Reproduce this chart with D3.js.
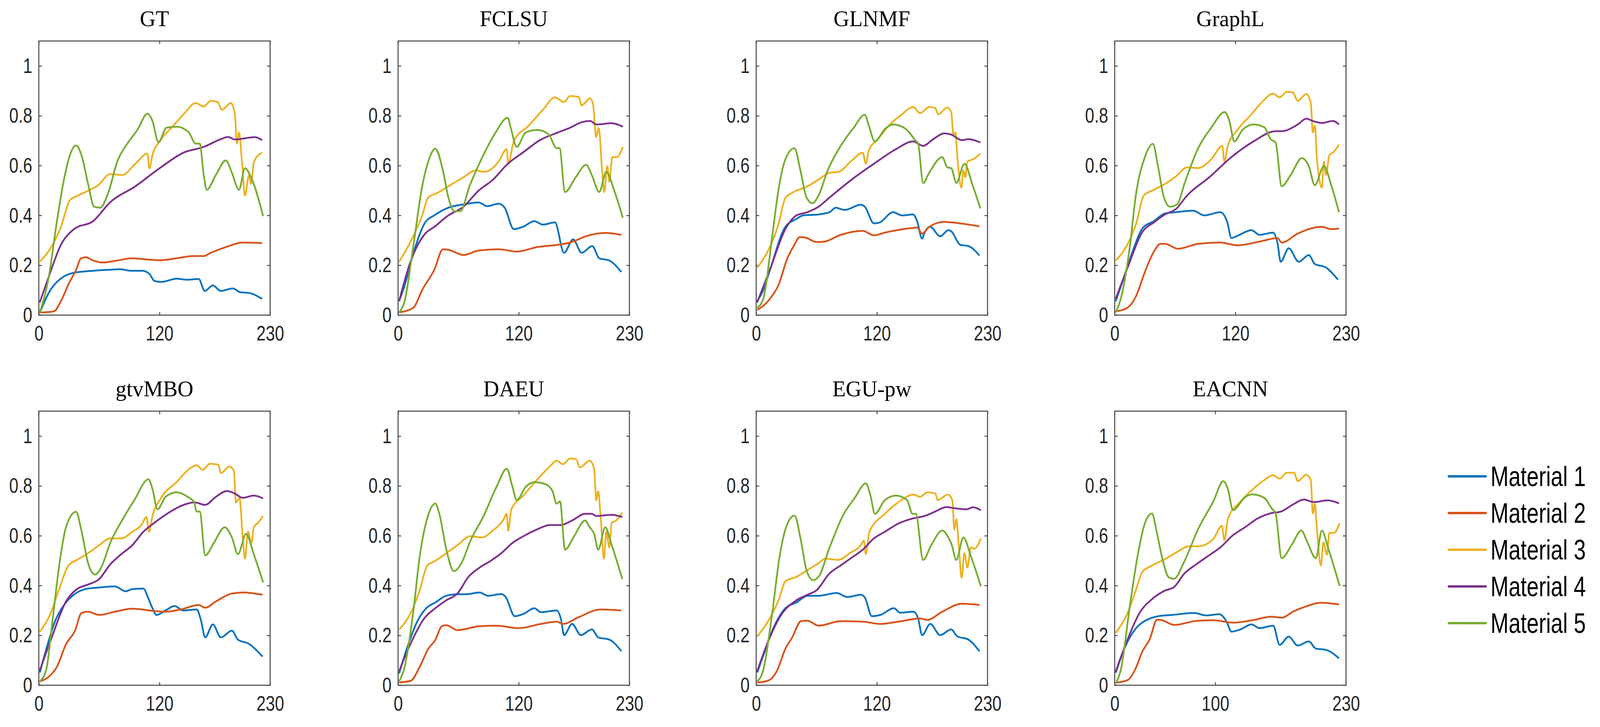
<!DOCTYPE html>
<html>
<head>
<meta charset="utf-8">
<script src="https://cdn.jsdelivr.net/npm/d3@7"></script>
<style>
  html, body { margin: 0; background: #fff; overflow: hidden; }
  svg { display: block; }
</style>
</head>
<body>
<svg id="chart"></svg>
<script>
// values, [band, abundance]
var gt1 = [[1,.01],[10,.09],[25,.155],[35,.17],[54,.178],[71,.182],[81,.184],[91,.178],[103,.178],[110,.165],[115,.137],[122,.133],[137,.146],[147,.142],[159,.145],[165,.097],[173,.119],[181,.097],[193,.107],[200,.092],[210,.088],[222,.065]];
var gt2 = [[1,.01],[15,.015],[22,.056],[30,.128],[37,.18],[42,.228],[47,.232],[54,.219],[64,.211],[78,.219],[93,.228],[108,.223],[120,.22],[137,.228],[154,.237],[164,.237],[171,.25],[186,.273],[203,.291],[222,.289]];
var gt3 = [[1,.214],[13,.277],[22,.354],[31,.462],[37,.476],[49,.499],[59,.521],[71,.566],[83,.562],[96,.607],[108,.648],[110,.589],[113,.643],[120,.697],[132,.752],[144,.806],[156,.851],[164,.837],[171,.86],[178,.855],[182,.824],[191,.851],[195,.806],[197,.688],[199,.733],[202,.616],[205,.48],[209,.562],[211,.526],[214,.616],[222,.652]];
var gt4 = [[1,.051],[10,.155],[22,.282],[35,.345],[54,.377],[71,.453],[96,.517],[120,.589],[144,.652],[164,.675],[181,.706],[188,.715],[195,.705],[215,.714],[222,.702]];
var gt5 = [[1,.01],[10,.155],[17.5,.363],[25,.544],[31,.643],[37,.681],[43,.634],[49,.526],[55,.435],[61,.431],[69,.49],[78,.616],[88,.688],[98,.743],[108,.808],[113,.779],[119,.693],[127,.752],[137,.756],[149,.734],[156,.688],[160,.688],[164,.562],[167,.503],[176,.562],[186,.621],[192,.571],[199,.503],[205,.589],[212,.544],[223,.397]];

var fc1 = [[1,.056],[6.5,.119],[15,.246],[27,.372],[36,.40],[50,.431],[65,.444],[80,.452],[88.6,.437],[100,.447],[106,.431],[115,.345],[124,.354],[135.5,.377],[144,.363],[156,.372],[165,.25],[174,.304],[182.5,.25],[193,.277],[200,.228],[210,.219],[222,.173]];
var fc2 = [[1,.011],[15,.029],[24,.101],[36,.182],[44.6,.264],[50,.262],[65,.241],[80,.259],[100,.264],[118,.255],[138.5,.273],[159,.282],[171,.291],[188,.318],[206,.33],[222,.322]];
var fc3 = [[1,.214],[12,.291],[24,.40],[30,.472],[39,.49],[50,.517],[65,.553],[77,.58],[86,.575],[100,.616],[108,.666],[109.5,.607],[115,.697],[130,.761],[144,.824],[156,.874],[165,.855],[171,.879],[179.5,.876],[182.5,.842],[191,.87],[194,.842],[197,.715],[199.5,.751],[203,.571],[205,.494],[208,.598],[210,.535],[213,.634],[217.6,.634],[223.5,.675]];
var fc4 = [[1,.056],[12,.21],[27,.327],[36,.354],[50,.40],[65,.435],[80,.499],[94.5,.544],[109,.607],[124,.652],[141,.702],[159,.733],[171,.752],[182.5,.774],[191,.779],[197,.765],[212,.77],[223.5,.756]];
var fc5 = [[1,.011],[6.5,.056],[15,.273],[24,.517],[30,.616],[37,.668],[44.6,.58],[50,.472],[56,.417],[62,.417],[71,.517],[86,.652],[97,.733],[109,.792],[112,.752],[118,.675],[127,.733],[138.5,.743],[150,.724],[157.5,.67],[160.5,.67],[166,.494],[176.6,.553],[187,.603],[192.6,.562],[200,.494],[207,.575],[215,.499],[223.5,.39]];

var gl1 = [[1,.056],[7,.10],[13.6,.18],[29,.354],[40,.386],[46.5,.40],[62,.404],[73,.413],[79,.431],[88,.422],[104,.443],[108,.435],[117,.368],[123,.372],[136,.413],[145,.40],[156,.404],[160,.377],[165,.307],[167,.327],[173,.354],[183,.316],[191,.341],[194,.336],[203,.282],[211,.277],[222,.239]];
var gl2 = [[1,.02],[13.6,.065],[22,.119],[31,.228],[38,.282],[43,.313],[49,.311],[60,.293],[68,.295],[84,.322],[106,.338],[117,.32],[128,.331],[150,.347],[160,.351],[165,.327],[172,.354],[187,.374],[194,.372],[222,.356]];
var gl3 = [[1,.19],[13.6,.273],[22,.363],[29,.47],[35.5,.49],[51,.517],[62,.544],[73,.571],[82,.575],[95,.62],[106,.652],[109,.607],[112,.661],[121,.706],[132,.761],[145,.806],[156,.835],[163,.81],[172,.835],[178,.831],[181,.806],[190,.833],[194,.815],[196,.724],[198,.733],[200,.634],[204,.512],[206,.58],[208,.553],[210,.616],[215.5,.625],[223,.648]];
var gl4 = [[1,.051],[13.6,.182],[29,.345],[40,.40],[51,.413],[62,.435],[73,.472],[95,.544],[117,.607],[139,.666],[156,.697],[166,.679],[176,.706],[187,.729],[194,.724],[204.5,.702],[211,.706],[223,.693]];
var gl5 = [[1,.029],[7,.065],[16,.318],[22,.499],[29,.625],[38,.67],[44,.58],[50,.472],[56,.449],[62,.48],[71,.58],[84,.679],[97,.752],[108,.804],[112,.76],[118,.697],[128,.747],[136,.765],[147,.752],[154,.724],[158,.702],[161,.688],[166,.53],[172,.571],[185,.634],[190,.593],[194,.589],[199,.53],[207,.607],[215.5,.517],[223,.428]];

var gr1 = [[1,.056],[8,.137],[17,.246],[28,.35],[39,.377],[50,.408],[61,.413],[78,.419],[89,.40],[105,.413],[112,.372],[116,.309],[122,.318],[136,.341],[144,.322],[157.5,.331],[162,.286],[165,.214],[173,.268],[183,.214],[193,.241],[199,.205],[210,.191],[222,.142]];
var gr2 = [[1,.015],[12.5,.029],[21,.074],[30,.173],[39,.255],[45.5,.286],[50,.286],[63,.266],[83,.286],[105,.291],[122,.28],[144,.295],[162,.309],[166,.291],[182,.327],[193,.345],[206,.354],[215,.345],[223,.347]];
var gr3 = [[1,.219],[12.5,.282],[21,.363],[29,.48],[37,.499],[50,.526],[61,.557],[72,.593],[83,.59],[96,.625],[107,.679],[109,.616],[112.5,.679],[122,.743],[136,.806],[146.5,.855],[157.5,.889],[164,.874],[171,.896],[177,.894],[182,.86],[190.5,.887],[195,.851],[197,.733],[199,.76],[201,.634],[206,.512],[208,.616],[210,.562],[213.5,.643],[217,.652],[223,.684]];
var gr4 = [[1,.065],[12.5,.187],[28,.336],[39,.372],[50,.404],[61,.426],[72,.48],[94,.553],[116,.634],[138,.697],[160,.738],[166,.738],[182,.765],[190.5,.788],[197,.779],[206,.771],[217,.779],[223,.765]];
var gr5 = [[1,.011],[6,.065],[15,.273],[21,.48],[30,.634],[38,.687],[43,.598],[49,.472],[55,.435],[62,.444],[70,.535],[83,.67],[96,.752],[109.5,.815],[114,.779],[119,.697],[127,.743],[138,.765],[149,.753],[155,.706],[160,.693],[166,.517],[175,.562],[186,.63],[193,.598],[199,.521],[208,.598],[215,.526],[223,.413]];

var gv1 = [[1,.051],[7.5,.146],[16,.255],[27,.332],[38,.372],[49,.388],[60,.392],[75.5,.397],[86.5,.377],[93,.386],[104,.388],[108.4,.354],[113,.309],[117,.282],[126,.30],[135,.318],[143.5,.30],[157,.304],[161,.264],[165.5,.192],[173,.244],[181,.192],[192,.219],[198,.183],[209,.166],[222.5,.115]];
var gv2 = [[1,.015],[12,.042],[18,.074],[27,.164],[36,.219],[42.6,.291],[49,.295],[60,.282],[75.5,.295],[93,.307],[115,.298],[126,.295],[141,.304],[159,.322],[165.5,.311],[176,.336],[192,.368],[203,.372],[222.5,.363]];
var gv3 = [[1,.214],[12,.291],[20.6,.39],[29.4,.48],[38,.503],[49,.53],[60,.562],[71,.589],[82,.589],[93,.616],[102,.643],[107,.675],[109.5,.616],[113,.679],[121.6,.752],[137,.815],[150,.869],[157,.883],[163,.864],[170,.889],[178.6,.885],[181,.851],[189.6,.878],[194,.86],[196,.733],[199.5,.751],[203,.58],[205,.508],[208,.616],[211.5,.571],[213.7,.634],[218,.652],[223,.679]];
var gv4 = [[1,.06],[12,.182],[27,.336],[38,.386],[49,.404],[60,.426],[71,.485],[82,.526],[93,.562],[104,.616],[115,.652],[126,.684],[137,.711],[148,.729],[154.5,.734],[165.5,.724],[176,.756],[187,.779],[194,.771],[203,.752],[213.7,.761],[223,.75]];
var gv5 = [[1,.015],[7.5,.065],[14,.273],[20.6,.49],[27,.634],[37,.696],[42.6,.616],[49,.49],[56,.444],[62,.472],[71,.571],[84,.67],[95,.743],[109,.826],[113,.788],[118,.706],[126,.756],[137,.774],[148,.756],[154.5,.734],[157,.697],[160,.697],[165.5,.521],[174,.571],[185,.634],[192,.593],[198,.526],[206,.607],[213.7,.526],[223,.413]];

var da1 = [[1,.047],[8.3,.142],[19,.255],[28,.309],[37,.332],[48,.359],[59,.365],[67.6,.365],[81,.372],[89.5,.359],[102.7,.366],[107,.354],[116,.277],[124.6,.286],[135.6,.309],[142,.293],[157.6,.30],[162,.264],[165,.201],[173,.246],[181.7,.201],[192.7,.224],[199,.192],[210,.183],[222,.137]];
var da2 = [[1,.011],[12.7,.018],[21.5,.074],[30,.146],[37,.182],[43.5,.237],[48,.241],[59,.221],[81,.237],[98,.239],[120,.229],[142,.246],[157.6,.255],[164,.246],[179.5,.273],[201.5,.304],[222,.30]];
var da3 = [[1,.223],[12.7,.291],[21.5,.381],[29,.48],[37,.499],[48,.53],[59,.562],[72,.598],[83,.593],[94,.62],[105,.666],[108,.688],[109.5,.62],[112.6,.706],[124.6,.761],[138,.824],[151,.878],[157.6,.901],[164,.887],[171,.91],[177,.907],[180.6,.874],[190.5,.901],[195,.869],[197,.742],[199,.778],[201.5,.67],[204.7,.508],[207,.616],[210,.553],[212.4,.652],[216.8,.661],[223,.693]];
var da4 = [[1,.056],[12.7,.169],[26,.268],[37,.309],[48,.341],[59,.368],[70,.435],[81,.472],[92,.499],[102.7,.53],[113.7,.571],[124.6,.598],[138,.625],[151,.643],[162,.643],[173,.661],[186,.688],[192.7,.688],[197,.679],[212.4,.684],[223,.675]];
var da5 = [[1,.015],[6,.065],[15,.291],[21.5,.517],[29,.67],[37,.729],[41,.688],[48,.544],[55.5,.458],[63,.49],[72,.58],[85,.679],[98,.797],[108,.869],[113.7,.797],[118,.743],[127,.797],[136,.815],[147,.806],[153.5,.779],[157.6,.729],[161,.738],[166,.544],[175,.598],[186,.661],[190.5,.634],[195,.607],[199,.544],[206,.634],[212.4,.562],[223,.426]];

var eg1 = [[1,.051],[7,.119],[18,.237],[29,.309],[40,.332],[51,.359],[62,.359],[80,.37],[90.6,.354],[104,.363],[108,.352],[115,.277],[123.5,.282],[137,.309],[143,.291],[156.5,.295],[161,.268],[165,.201],[173,.246],[183,.201],[193.8,.224],[200,.196],[211,.183],[222,.136]];
var eg2 = [[1,.011],[11.6,.018],[20.4,.056],[29,.146],[35.8,.192],[44.5,.257],[51,.259],[62,.239],[84,.257],[106,.255],[123.5,.246],[141,.255],[163,.268],[170,.262],[185,.295],[204.7,.327],[222,.322]];
var eg3 = [[1,.196],[11.6,.255],[22.6,.345],[29,.417],[40,.435],[51,.462],[62,.49],[68.7,.508],[82,.503],[93,.53],[104,.562],[107,.58],[109,.526],[112.6,.616],[128,.688],[141,.733],[156.5,.765],[163,.756],[170,.774],[178,.77],[180.6,.743],[190.5,.765],[195,.743],[197,.625],[199,.666],[201.4,.562],[204.3,.431],[207,.53],[210,.472],[213.5,.553],[216.8,.548],[223.4,.589]];
var eg4 = [[1,.056],[11.6,.173],[24.8,.282],[40,.341],[51,.363],[60,.381],[73,.449],[84,.481],[95,.512],[106,.544],[117,.589],[128,.616],[141,.648],[156.5,.67],[167.4,.679],[178,.697],[189,.715],[196,.711],[209,.706],[215.7,.714],[223.4,.702]];
var eg5 = [[1,.015],[7,.061],[16,.291],[22.6,.499],[29,.625],[38,.681],[44.5,.58],[50,.462],[56.6,.422],[62,.435],[73,.553],[86,.679],[98,.752],[109,.81],[113.7,.76],[118,.688],[128,.743],[139,.761],[150,.743],[155.4,.688],[158.7,.688],[166,.503],[174,.562],[185,.621],[191.6,.589],[194,.569],[199,.503],[206,.593],[213.5,.517],[223.4,.397]];

var ea1 = [[1,.05],[10.7,.157],[25,.244],[45,.278],[57,.282],[79,.29],[91,.28],[104,.285],[111.5,.253],[116,.215],[125,.224],[136,.244],[144,.229],[157.6,.239],[164,.162],[173,.195],[182,.159],[193,.176],[200,.147],[210,.142],[223,.108]];
var ea2 = [[1,.01],[13,.021],[20,.06],[27.7,.137],[35,.186],[42,.263],[47,.261],[59,.242],[81,.258],[98,.261],[117.6,.251],[137,.261],[156,.275],[166,.271],[178,.297],[190,.316],[205,.331],[223,.324]];
var ea3 = [[1,.21],[13,.292],[20,.369],[27.7,.456],[35,.476],[49.5,.505],[61.7,.534],[74,.558],[83.5,.558],[98,.587],[106.6,.64],[109,.582],[112.7,.669],[125,.737],[137,.785],[149,.824],[157.6,.843],[164,.829],[171,.853],[178.3,.853],[182,.819],[190.5,.845],[195,.824],[197,.689],[199,.727],[201,.631],[205,.481],[207.5,.573],[211,.524],[213.5,.611],[218,.611],[223.7,.65]];
var ea4 = [[1,.055],[13,.186],[25,.292],[37,.345],[49.5,.379],[59,.394],[69,.447],[81,.485],[93,.519],[105,.553],[117.6,.602],[130,.635],[142,.669],[154,.689],[166,.698],[178,.727],[188,.745],[198,.735],[212,.742],[223,.73]];
var ea5 = [[1,.007],[6,.06],[15.5,.331],[23,.524],[30,.65],[37,.689],[42,.611],[47,.515],[54,.432],[59,.427],[69,.495],[83.5,.631],[98,.737],[108,.819],[112.7,.785],[117.6,.703],[130,.756],[137,.766],[149,.751],[156.4,.708],[160,.689],[166,.51],[176,.563],[185.6,.621],[191.6,.573],[200,.51],[206,.621],[212,.553],[223.7,.398]];

var titles = ["GT", "FCLSU", "GLNMF", "GraphL", "gtvMBO", "DAEU", "EGU-pw", "EACNN"];
var materials = ["Material 1", "Material 2", "Material 3", "Material 4", "Material 5"];
var colors = ["#0072BD", "#D95319", "#EDB120", "#7E2F8E", "#77AC30"];
var yTicks = [0, 0.2, 0.4, 0.6, 0.8, 1];
var xTicksA = [0, 120, 230];
var xTicksB = [0, 100, 230];

var panels = [
    { title: titles[0], series: [gt1, gt2, gt3, gt4, gt5], xt: xTicksA },
    { title: titles[1], series: [fc1, fc2, fc3, fc4, fc5], xt: xTicksA },
    { title: titles[2], series: [gl1, gl2, gl3, gl4, gl5], xt: xTicksA },
    { title: titles[3], series: [gr1, gr2, gr3, gr4, gr5], xt: xTicksA },
    { title: titles[4], series: [gv1, gv2, gv3, gv4, gv5], xt: xTicksA },
    { title: titles[5], series: [da1, da2, da3, da4, da5], xt: xTicksA },
    { title: titles[6], series: [eg1, eg2, eg3, eg4, eg5], xt: xTicksA },
    { title: titles[7], series: [ea1, ea2, ea3, ea4, ea5], xt: xTicksB }
];

// the window is narrower than 4164, so lay out at 4164x1862 and fit it to the viewport
var W = 4164, H = 1862;
var svg = d3.select("#chart")
    .attr("width", window.innerWidth || W)
    .attr("height", window.innerHeight || H)
    .attr("viewBox", "0 0 " + W + " " + H)
    .attr("preserveAspectRatio", "none");

var pw = 602, ph = 702;
var colX = [101, 1036, 1968, 2901];
var rowY = [105, 1053];
// no narrow font installed, so squeeze Liberation Sans sideways
var numFont = "'Liberation Sans', Arial, sans-serif";
var squeeze = 0.8;

var x = d3.scaleLinear().domain([0, 230]).range([0, pw]);
var y = d3.scaleLinear().domain([0, 1.1]).range([ph, 0]);

var line = d3.line()
    .x(function(d) { return x(d[0]); })
    .y(function(d) { return y(d[1]); })
    .curve(d3.curveMonotoneX);

panels.forEach(function(p, i) {
    var g = svg.append("g")
        .attr("transform", "translate(" + colX[i % 4] + "," + rowY[Math.floor(i / 4)] + ")");

    g.append("text")
        .attr("x", pw / 2)
        .attr("y", -38)
        .attr("text-anchor", "middle")
        .style("font-family", "'Liberation Serif', 'Times New Roman', serif")
        .style("font-size", "57px")
        .text(p.title);

    // ticks point inwards on all four sides, like a matlab box
    g.append("g").call(d3.axisLeft(y).tickValues(yTicks)
        .tickSize(-8).tickPadding(17 / squeeze).tickFormat(function(d) { return String(d); }));
    g.append("g").attr("transform", "translate(" + pw + ",0)")
        .call(d3.axisRight(y).tickValues(yTicks).tickSize(-8).tickFormat(""));
    g.append("g").attr("transform", "translate(0," + ph + ")")
        .call(d3.axisBottom(x).tickValues(p.xt).tickSize(-8).tickPadding(27));
    g.append("g")
        .call(d3.axisTop(x).tickValues(p.xt).tickSize(-8).tickFormat(""));

    g.selectAll(".domain").remove();
    g.selectAll(".tick line").attr("stroke", "#262626").attr("stroke-width", 2);
    g.selectAll(".tick text")
        .attr("transform", "scale(" + squeeze + ",1)")
        .style("font-family", numFont)
        .style("font-size", "54px")
        .attr("fill", "#262626");

    g.append("g")
        .selectAll("path")
        .data(p.series)
        .enter().append("path")
        .attr("d", line)
        .attr("fill", "none")
        .attr("stroke", function(d, k) { return colors[k]; })
        .attr("stroke-width", 4.5)
        .attr("stroke-linejoin", "round");

    g.append("rect")
        .attr("width", pw)
        .attr("height", ph)
        .attr("fill", "none")
        .attr("stroke", "#404040")
        .attr("stroke-width", 2.5);
});

var legend = svg.append("g").attr("transform", "translate(3768,1220)");
var item = legend.selectAll("g")
    .data(materials)
    .enter().append("g")
    .attr("transform", function(d, i) { return "translate(0," + i * 94 + ")"; });

item.append("line")
    .attr("x1", 0).attr("x2", 101)
    .attr("stroke", function(d, i) { return colors[i]; })
    .attr("stroke-width", 6);

// a little short of the reference width so the label keeps clear of the page edge
item.append("text")
    .attr("x", 111)
    .attr("dy", "0.35em")
    .attr("textLength", 248)
    .attr("lengthAdjust", "spacingAndGlyphs")
    .style("font-family", numFont)
    .style("font-size", "72px")
    .text(function(d) { return d; });
</script>
</body>
</html>
